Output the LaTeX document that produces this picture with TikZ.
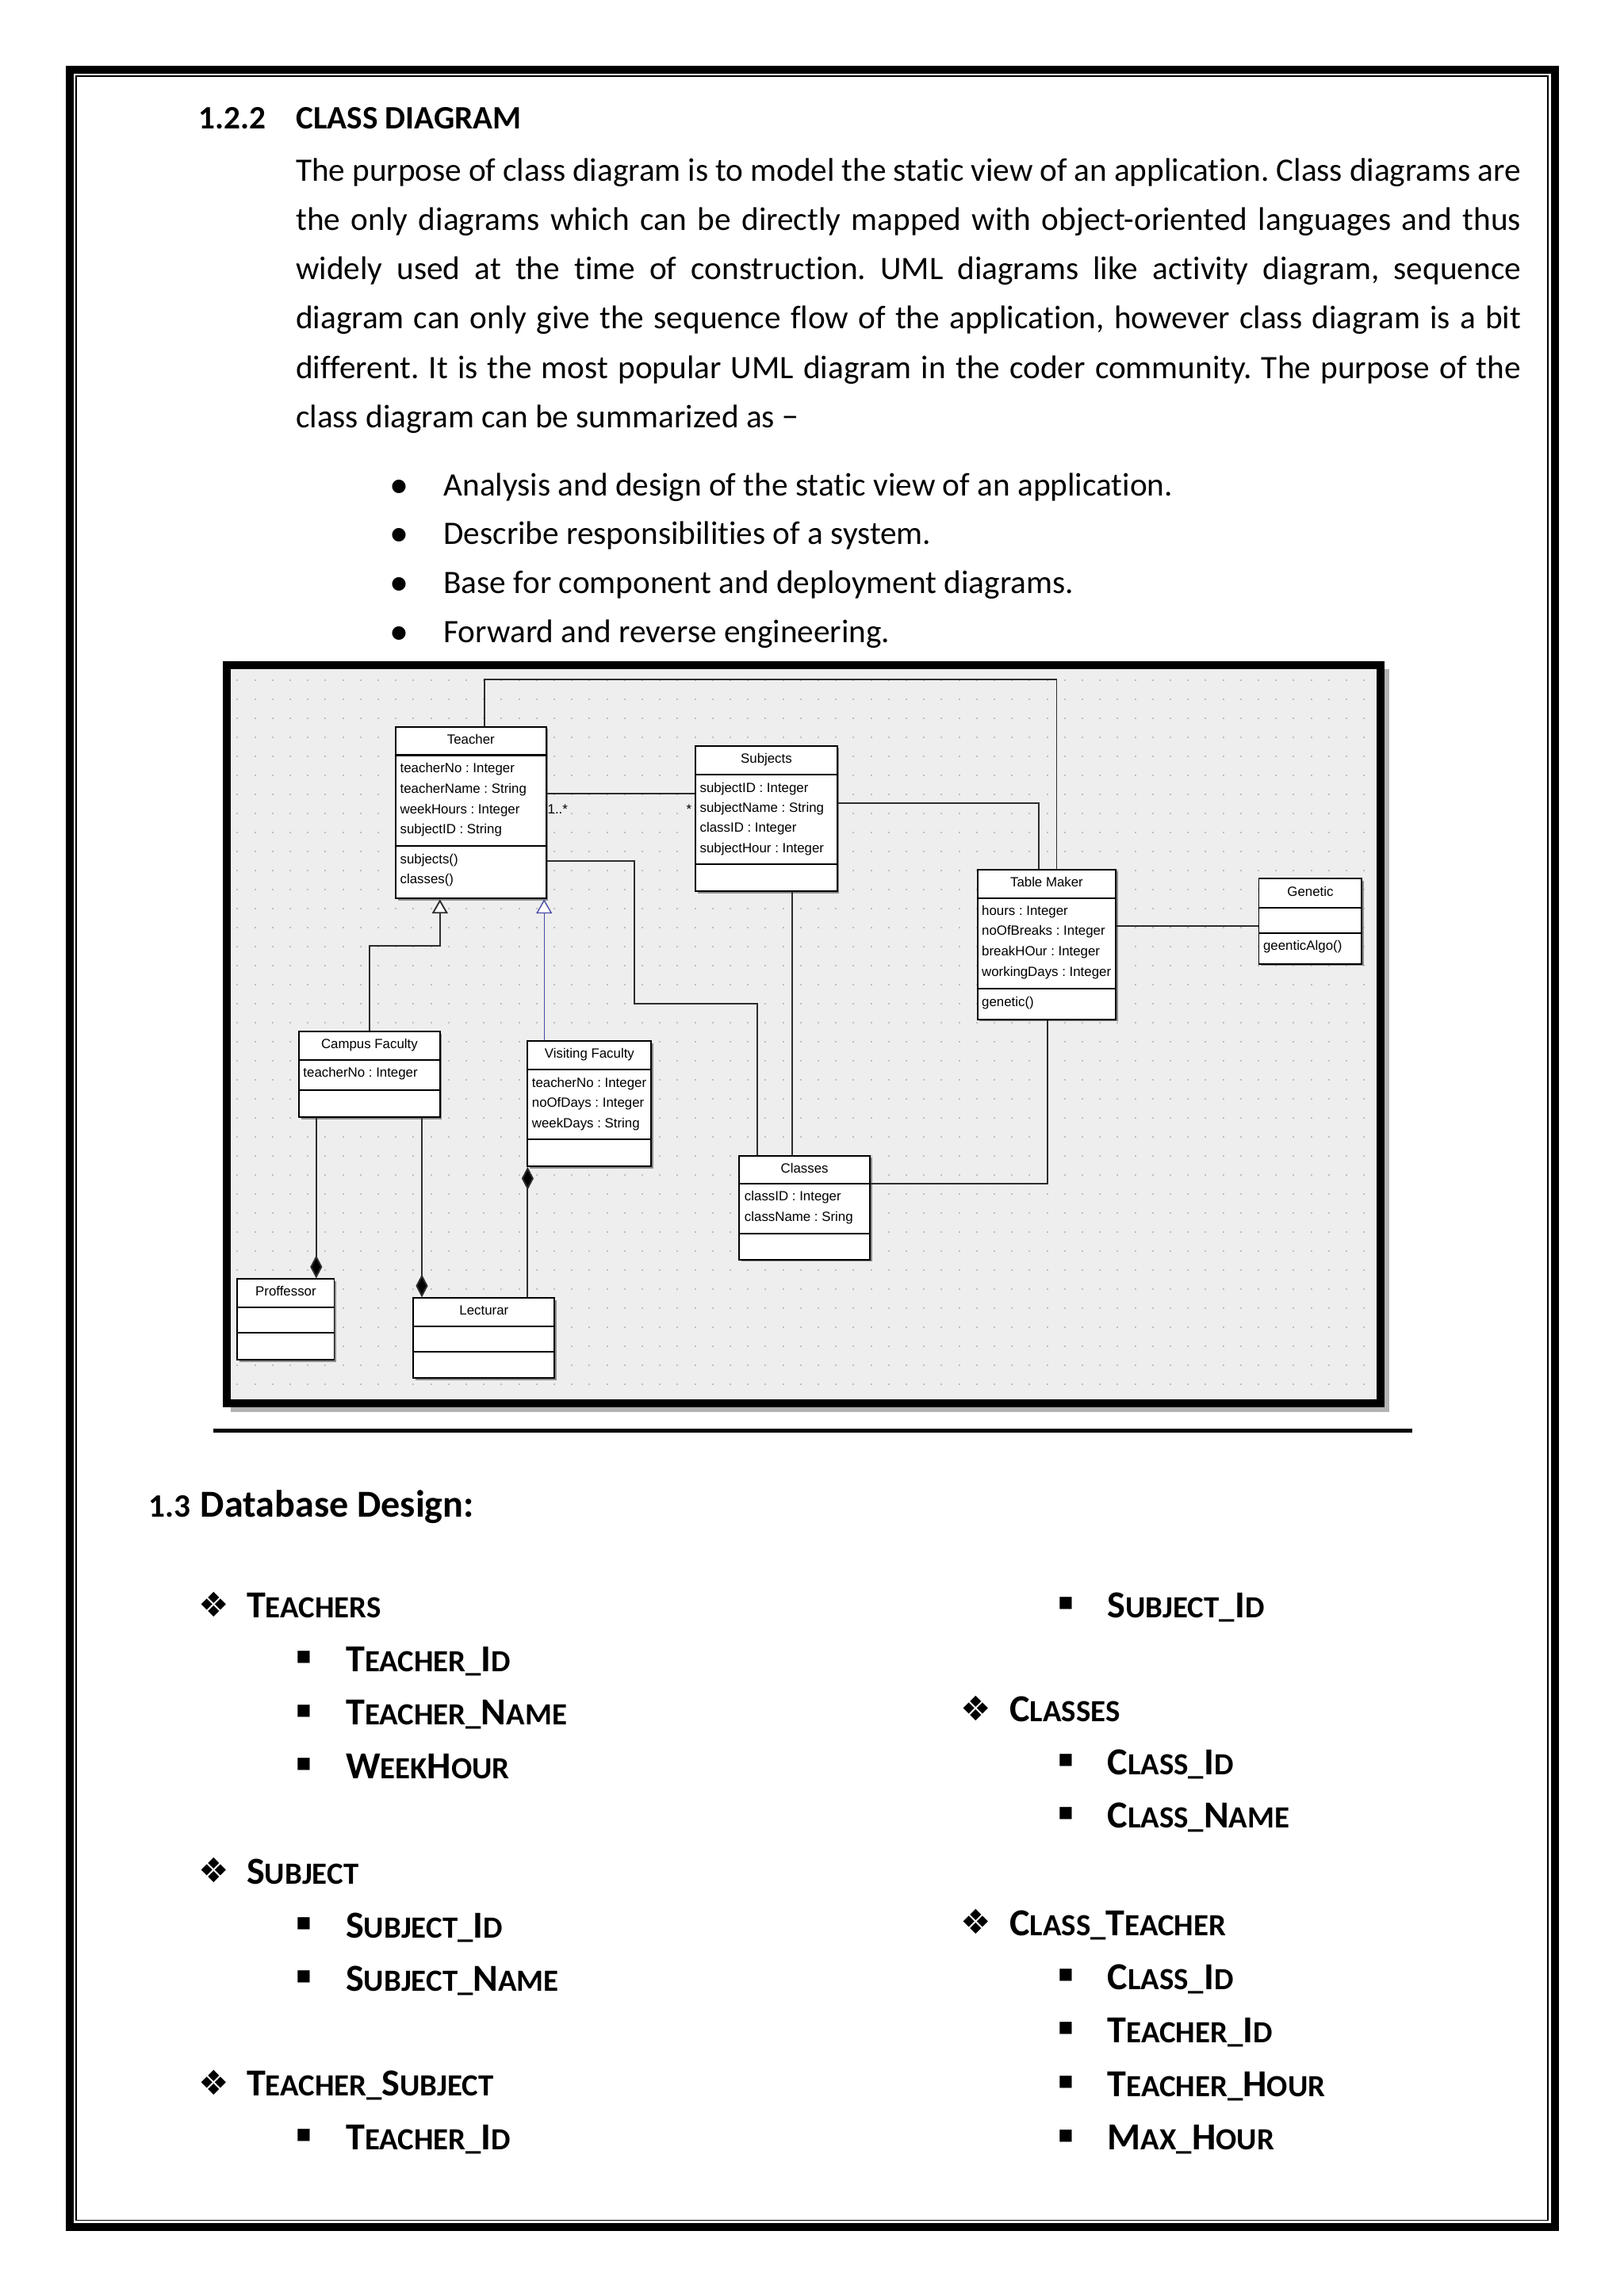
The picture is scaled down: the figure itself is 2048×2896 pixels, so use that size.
\documentclass[tikz,border=0pt]{standalone}
\usepackage{fontspec}
\setmainfont{Carlito}[Ligatures=NoCommon]
\newfontfamily\umlf{Liberation Sans}
\newfontfamily\dejavu{DejaVu Sans}
\usetikzlibrary{arrows.meta,fit}
\definecolor{gridbg}{RGB}{238,238,238}
\definecolor{dotc}{RGB}{190,190,190}
\definecolor{umlblue}{RGB}{72,72,168}
\definecolor{connc}{RGB}{45,45,45}
\frenchspacing
\newcommand\jline[1]{\makebox[449.3pt][s]{#1}}
\newcommand\BC[1]{{\fontsize{14}{16}\selectfont #1}}
\newcommand\SC[1]{{\fontsize{11.3}{13}\selectfont #1}}
\tikzset{
 classbox/.style={draw=black, line width=0.55pt, fill=white, inner sep=0pt},
 divl/.style={draw=black, line width=0.6pt},
 cname/.style={font=\umlf\fontsize{4.9}{5.9}\selectfont, inner sep=0pt, text height=3.5pt, text depth=0pt},
 attr/.style={cname, anchor=west},
 conn/.style={draw=connc, line width=0.55pt},
 gen/.style={conn, -{Triangle[fill=white, length=5.2pt, width=5.8pt]}},
 genb/.style={draw=umlblue, line width=0.4pt, -{Triangle[fill=white, length=5.2pt, width=5.8pt]}},
 compend/.style={conn, -{Diamond[fill=black, length=8.4pt, width=4.4pt]}},
 compstart/.style={conn, {Diamond[fill=black, length=8.4pt, width=4.4pt]}-},
 body/.style={font=\fontsize{12}{18}\selectfont, inner sep=0pt, anchor=base west},
 hbold/.style={font=\bfseries\fontsize{12}{14}\selectfont, inner sep=0pt, anchor=base west},
 dbt/.style={font=\bfseries, inner sep=0pt, anchor=base west},
 diam/.style={font=\dejavu\fontsize{12.5}{13}\selectfont, inner sep=0pt, anchor=center},
 sq/.style={font=\dejavu\fontsize{5.8}{6}\selectfont, inner sep=0pt, anchor=center},
 bul/.style={font=\fontsize{14}{14}\selectfont, inner sep=0pt, anchor=center},
}
% name, L, T, R, B, d1, d2, title
\newcommand\umlcls[8]{%
  \fill[black!45] (#2+2.5,#3+2.5) rectangle (#4+2.5,#5+2.5);
  \node[classbox, fit={(#2,#3) (#4,#5)}] (#1) {};
  \draw[divl] (#2,#6) -- (#4,#6);
  \draw[divl] (#2,#7) -- (#4,#7);
  \node[cname] (#1-t) at ({(#2+#4)/2},{(#3+#6)/2-2.5}) {#8};
}
\begin{document}
\begin{tikzpicture}[x=0.2908pt,y=-0.2908pt]
\useasboundingbox (0,0) rectangle (2048,2896);
% page border
\draw[line width=2.9pt] (88,88) rectangle (1961,2809);
\draw[line width=0.55pt] (96,96) rectangle (1952,2800.5);

% heading and body
\node[hbold] (hnum) at (250,162) {1.2.2};
\node[hbold] (htitle) at (372.5,162) {CLASS DIAGRAM};
\node[body] (b1) at (372.5,228.3) {\jline{The purpose of class diagram is to model the static view of an application. Class diagrams are}};
\node[body] (b2) at (372.5,290.5) {\jline{the only diagrams which can be directly mapped with object-oriented languages and thus}};
\node[body] (b3) at (372.5,352.7) {\jline{widely used at the time of construction. UML diagrams like activity diagram, sequence}};
\node[body] (b4) at (372.5,414.9) {\jline{diagram can only give the sequence flow of the application, however class diagram is a bit}};
\node[body] (b5) at (372.5,477.1) {\jline{different. It is the most popular UML diagram in the coder community. The purpose of the}};
\node[body] (b6) at (372.5,539.3) {class diagram can be summarized as −};

\node[bul] (u1) at (503,616) {•};
\node[body] (i1) at (558.8,625) {Analysis and design of the static view of an application.};
\node[bul] (u2) at (503,677.7) {•};
\node[body] (i2) at (558.8,686.7) {Describe responsibilities of a system.};
\node[bul] (u3) at (503,739.3) {•};
\node[body] (i3) at (558.8,748.3) {Base for component and deployment diagrams.};
\node[bul] (u4) at (503,801) {•};
\node[body] (i4) at (558.8,810) {Forward and reverse engineering.};

% diagram frame
\fill[black!30] (291,844) rectangle (1752,1781);
\draw[line width=2.9pt, fill=gridbg] (286,839) rectangle (1741,1770);
\foreach \i in {0,...,64}{\foreach \j in {0,...,37}{
  \fill[dotc] ({299.4+\i*22.2-1},{858+\j*24-1}) rectangle ++(2,2);}}

% connector bend points
\coordinate (k1) at (610.6,856.7);
\coordinate (k2) at (1332.5,856.7);
\coordinate (ts) at (700,1000.7);
\coordinate (m1) at (800.1,1085.7);
\coordinate (m2) at (800.1,1265.7);
\coordinate (m3) at (955.2,1265.7);
\coordinate (s1) at (999,1300);
\coordinate (s2) at (1310.2,1012.7);
\coordinate (g0) at (1500,1168.3);
\coordinate (c7) at (1320.9,1493.3);
\coordinate (h1) at (465.7,1193.3);
\coordinate (h2) at (554.8,1193.3);
\coordinate (v1) at (686.2,1200);
\coordinate (p1) at (398.8,1500);
\coordinate (p2) at (532,1500);
\coordinate (p3) at (665.4,1550);

% classes
\umlcls{teacher}{499}{916.7}{688.6}{1133.3}{952.5}{1067.3}{Teacher}
\umlcls{subjects}{877.2}{940.7}{1055.7}{1124}{976.7}{1090}{Subjects}
\umlcls{tmk}{1232.7}{1096.7}{1407.2}{1285.7}{1132.7}{1247.3}{Table Maker}
\umlcls{genetic}{1587.5}{1108.3}{1717.4}{1215.7}{1145}{1176.7}{Genetic}
\umlcls{classes}{932}{1457.8}{1097.3}{1588.6}{1493.2}{1556.3}{Classes}
\umlcls{campus}{377}{1301}{554.8}{1409}{1337.3}{1375}{Campus Faculty}
\umlcls{visiting}{665.4}{1313.3}{821.4}{1471}{1349.3}{1437.3}{Visiting Faculty}
\umlcls{proff}{299.4}{1613.3}{421.5}{1715}{1649.3}{1681}{Proffessor}
\umlcls{lect}{521.4}{1637.3}{699.3}{1738.3}{1673.3}{1705}{Lecturar}

% connectors
\draw[conn] (k1 |- teacher.north) -- (k1) -- (k2) -- (k2 |- tmk.north);
\draw[conn] (teacher.east |- ts) -- (subjects.west |- ts);
\draw[conn] (teacher.east |- m1) -- (m1) -- (m2) -- (m3) -- (m3 |- classes.north);
\draw[conn] (s1 |- subjects.south) -- (s1 |- classes.north);
\draw[conn] (subjects.east |- s2) -- (s2) -- (s2 |- tmk.north);
\draw[conn] (tmk.east |- g0) -- (genetic.west |- g0);
\draw[conn] (c7 |- tmk.south) -- (c7) -- (classes.east |- c7);
\draw[gen] (h1 |- campus.north) -- (h1) -- (h2) -- (h2 |- teacher.south);
\draw[genb] (v1 |- visiting.north) -- (v1 |- teacher.south);
\draw[compend] (p1 |- campus.south) -- (p1 |- proff.north);
\draw[compend] (p2 |- campus.south) -- (p2 |- lect.north);
\draw[compstart] (p3 |- visiting.south) -- (p3 |- lect.north);

% multiplicities
\node[attr] (mul1) at (690,1020) {1..*};
\node[attr] (mul2) at (865,1020) {*};

% attributes
\node[attr] (ta1) at (504,968.3) {teacherNo : Integer};
\node[attr] (ta2) at (504,994) {teacherName : String};
\node[attr] (ta3) at (504,1020) {weekHours : Integer};
\node[attr] (ta4) at (504,1045) {subjectID : String};
\node[attr] (tm1) at (504,1083.3) {subjects()};
\node[attr] (tm2) at (504,1108.3) {classes()};

\node[attr] (sa1) at (882,993.3) {subjectID : Integer};
\node[attr] (sa2) at (882,1018.3) {subjectName : String};
\node[attr] (sa3) at (882,1043.3) {classID : Integer};
\node[attr] (sa4) at (882,1069) {subjectHour : Integer};

\node[attr] (ka1) at (1237.5,1148.3) {hours : Integer};
\node[attr] (ka2) at (1237.5,1173.3) {noOfBreaks : Integer};
\node[attr] (ka3) at (1237.5,1199.3) {breakHOur : Integer};
\node[attr] (ka4) at (1237.5,1225) {workingDays : Integer};
\node[attr] (km1) at (1237.5,1263.3) {genetic()};

\node[attr] (gm1) at (1592.4,1192.7) {geenticAlgo()};

\node[attr] (ca1) at (938.3,1508.6) {classID : Integer};
\node[attr] (ca2) at (938.3,1534.6) {className : Sring};

\node[attr] (cf1) at (381.8,1352.7) {teacherNo : Integer};

\node[attr] (vf1) at (670.2,1365) {teacherNo : Integer};
\node[attr] (vf2) at (670.2,1390.7) {noOfDays : Integer};
\node[attr] (vf3) at (670.2,1416) {weekDays : String};

% rule
\draw[line width=1.45pt] (269,1804) -- (1781,1804);

% database design
\node[hbold] (dnum) at (187,1913) {1.3};
\node[dbt, font=\bfseries\fontsize{14}{16}\selectfont] (dtitle) at (252,1913) {Database Design:};

% left column
\node[diam] (dl1) at (269.5,2023.5) {❖};
\node[dbt] (tl1) at (310.4,2040.7) {\BC{T}\SC{EACHERS}};
\node[sq] (ql1) at (383,2090.3) {■};
\node[dbt] (tl2) at (435.5,2108.3) {\BC{T}\SC{EACHER\_}\BC{I}\SC{D}};
\node[sq] (ql2) at (383,2157.9) {■};
\node[dbt] (tl3) at (435.5,2175.9) {\BC{T}\SC{EACHER\_}\BC{N}\SC{AME}};
\node[sq] (ql3) at (383,2225.5) {■};
\node[dbt] (tl4) at (435.5,2243.5) {\BC{W}\SC{EEK}\BC{H}\SC{OUR}};

\node[diam] (dl2) at (269.5,2359.3) {❖};
\node[dbt] (tl5) at (310.4,2376.5) {\BC{S}\SC{UBJECT}};
\node[sq] (ql4) at (383,2426.1) {■};
\node[dbt] (tl6) at (435.5,2444.1) {\BC{S}\SC{UBJECT\_}\BC{I}\SC{D}};
\node[sq] (ql5) at (383,2493.7) {■};
\node[dbt] (tl7) at (435.5,2511.7) {\BC{S}\SC{UBJECT\_}\BC{N}\SC{AME}};

\node[diam] (dl3) at (269.5,2626.4) {❖};
\node[dbt] (tl8) at (310.4,2643.6) {\BC{T}\SC{EACHER\_}\BC{S}\SC{UBJECT}};
\node[sq] (ql6) at (383,2693.2) {■};
\node[dbt] (tl9) at (435.5,2711.2) {\BC{T}\SC{EACHER\_}\BC{I}\SC{D}};

% right column
\node[sq] (qr1) at (1344,2022.7) {■};
\node[dbt] (tr1) at (1396,2040.7) {\BC{S}\SC{UBJECT\_}\BC{I}\SC{D}};

\node[diam] (dr1) at (1230.6,2154.5) {❖};
\node[dbt] (tr2) at (1272.7,2171.7) {\BC{C}\SC{LASSES}};
\node[sq] (qr2) at (1344,2220.3) {■};
\node[dbt] (tr3) at (1396,2238.3) {\BC{C}\SC{LASS\_}\BC{I}\SC{D}};
\node[sq] (qr3) at (1344,2287) {■};
\node[dbt] (tr4) at (1396,2305) {\BC{C}\SC{LASS\_}\BC{N}\SC{AME}};

\node[diam] (dr2) at (1230.6,2424.2) {❖};
\node[dbt] (tr5) at (1272.7,2441.4) {\BC{C}\SC{LASS\_}\BC{T}\SC{EACHER}};
\node[sq] (qr4) at (1344,2491) {■};
\node[dbt] (tr6) at (1396,2509) {\BC{C}\SC{LASS\_}\BC{I}\SC{D}};
\node[sq] (qr5) at (1344,2558.6) {■};
\node[dbt] (tr7) at (1396,2576.6) {\BC{T}\SC{EACHER\_}\BC{I}\SC{D}};
\node[sq] (qr6) at (1344,2626.2) {■};
\node[dbt] (tr8) at (1396,2644.2) {\BC{T}\SC{EACHER\_}\BC{H}\SC{OUR}};
\node[sq] (qr7) at (1344,2693.8) {■};
\node[dbt] (tr9) at (1396,2711.8) {\BC{M}\SC{AX\_}\BC{H}\SC{OUR}};
\end{tikzpicture}
\end{document}
